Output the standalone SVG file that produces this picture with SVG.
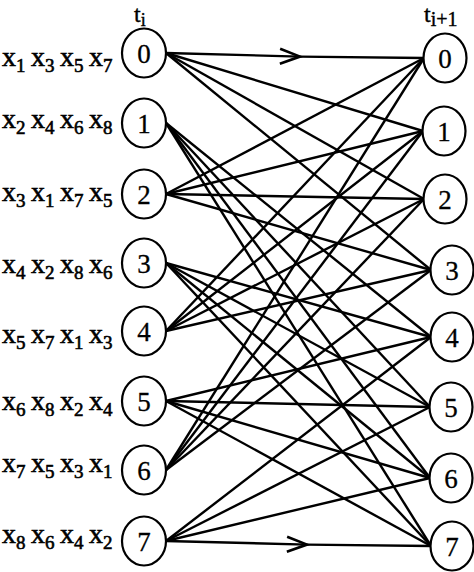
<svg xmlns="http://www.w3.org/2000/svg" width="474" height="572" viewBox="0 0 474 572">
<defs>
<style>
.n{fill:#fff;stroke:#000;stroke-width:2.2}
.d{font-family:'Liberation Serif','Times New Roman',serif;font-size:27px;text-anchor:middle;fill:#000;stroke:#000;stroke-width:0.3}
.lb{font-family:'Liberation Serif','Times New Roman',serif;font-size:28px;fill:#000;stroke:#000;stroke-width:0.6}
.sb{font-size:19px}
.t{font-family:'Liberation Serif','Times New Roman',serif;font-size:24px;fill:#000;stroke:#000;stroke-width:0.4}
.e{stroke:#000;stroke-width:2.4;fill:none}
</style>
<marker id="chev" markerUnits="userSpaceOnUse" markerWidth="30" markerHeight="20" viewBox="-22 -10 24 20" refX="0" refY="0" orient="auto">
<path d="M-20,-7.5 L0,0 L-20,7.5" fill="none" stroke="#000" stroke-width="2.6"/>
</marker>
</defs>
<rect width="474" height="572" fill="#fff"/>
<g id="connectors">
<path class="e" d="M166,53 L300,56.6 L424,58" marker-mid="url(#chev)"/>
<line class="e" x1="166" y1="53" x2="423" y2="131"/>
<line class="e" x1="166" y1="53" x2="424" y2="199"/>
<line class="e" x1="166" y1="53" x2="431" y2="270"/>
<line class="e" x1="166" y1="123" x2="431" y2="337"/>
<line class="e" x1="166" y1="123" x2="430" y2="407"/>
<line class="e" x1="166" y1="123" x2="430" y2="478"/>
<line class="e" x1="166" y1="123" x2="431" y2="546"/>
<line class="e" x1="166" y1="194" x2="424" y2="58"/>
<line class="e" x1="166" y1="194" x2="423" y2="131"/>
<line class="e" x1="166" y1="194" x2="424" y2="199"/>
<line class="e" x1="166" y1="194" x2="431" y2="270"/>
<line class="e" x1="166" y1="263" x2="431" y2="337"/>
<line class="e" x1="166" y1="263" x2="430" y2="407"/>
<line class="e" x1="166" y1="263" x2="430" y2="478"/>
<line class="e" x1="166" y1="263" x2="431" y2="546"/>
<line class="e" x1="166" y1="331" x2="424" y2="58"/>
<line class="e" x1="166" y1="331" x2="423" y2="131"/>
<line class="e" x1="166" y1="331" x2="424" y2="199"/>
<line class="e" x1="166" y1="331" x2="431" y2="270"/>
<line class="e" x1="166" y1="401" x2="431" y2="337"/>
<line class="e" x1="166" y1="401" x2="430" y2="407"/>
<line class="e" x1="166" y1="401" x2="430" y2="478"/>
<line class="e" x1="166" y1="401" x2="431" y2="546"/>
<line class="e" x1="166" y1="470" x2="424" y2="58"/>
<line class="e" x1="166" y1="470" x2="423" y2="131"/>
<line class="e" x1="166" y1="470" x2="424" y2="199"/>
<line class="e" x1="166" y1="470" x2="431" y2="270"/>
<line class="e" x1="166" y1="541" x2="431" y2="337"/>
<line class="e" x1="166" y1="541" x2="430" y2="407"/>
<line class="e" x1="166" y1="541" x2="430" y2="478"/>
<path class="e" d="M166,541 L307,544.6 L431,546" marker-mid="url(#chev)"/>
</g>
<g id="titles">
<text class="t" x="134" y="22">t<tspan dy="4" font-size="18">i</tspan></text>
<text class="t" x="424" y="22">t<tspan dy="4" font-size="20">i+1</tspan></text>
</g>
<g id="left-0"><ellipse class="n" cx="144" cy="53" rx="22" ry="24.5"/><text class="d" x="144" y="63">0</text>
<text class="lb" y="66"><tspan x="2">x</tspan><tspan class="sb" dy="6">1</tspan><tspan x="31" dy="-6">x</tspan><tspan class="sb" dy="6">3</tspan><tspan x="60" dy="-6">x</tspan><tspan class="sb" dy="6">5</tspan><tspan x="89" dy="-6">x</tspan><tspan class="sb" dy="6">7</tspan></text></g>
<g id="left-1"><ellipse class="n" cx="144" cy="123" rx="22" ry="24.5"/><text class="d" x="144" y="133">1</text>
<text class="lb" y="128"><tspan x="2">x</tspan><tspan class="sb" dy="6">2</tspan><tspan x="31" dy="-6">x</tspan><tspan class="sb" dy="6">4</tspan><tspan x="60" dy="-6">x</tspan><tspan class="sb" dy="6">6</tspan><tspan x="89" dy="-6">x</tspan><tspan class="sb" dy="6">8</tspan></text></g>
<g id="left-2"><ellipse class="n" cx="144" cy="194" rx="22" ry="24.5"/><text class="d" x="144" y="204">2</text>
<text class="lb" y="201"><tspan x="2">x</tspan><tspan class="sb" dy="6">3</tspan><tspan x="31" dy="-6">x</tspan><tspan class="sb" dy="6">1</tspan><tspan x="60" dy="-6">x</tspan><tspan class="sb" dy="6">7</tspan><tspan x="89" dy="-6">x</tspan><tspan class="sb" dy="6">5</tspan></text></g>
<g id="left-3"><ellipse class="n" cx="144" cy="263" rx="22" ry="24.5"/><text class="d" x="144" y="273">3</text>
<text class="lb" y="273"><tspan x="2">x</tspan><tspan class="sb" dy="6">4</tspan><tspan x="31" dy="-6">x</tspan><tspan class="sb" dy="6">2</tspan><tspan x="60" dy="-6">x</tspan><tspan class="sb" dy="6">8</tspan><tspan x="89" dy="-6">x</tspan><tspan class="sb" dy="6">6</tspan></text></g>
<g id="left-4"><ellipse class="n" cx="144" cy="331" rx="22" ry="24.5"/><text class="d" x="144" y="341">4</text>
<text class="lb" y="343"><tspan x="2">x</tspan><tspan class="sb" dy="6">5</tspan><tspan x="31" dy="-6">x</tspan><tspan class="sb" dy="6">7</tspan><tspan x="60" dy="-6">x</tspan><tspan class="sb" dy="6">1</tspan><tspan x="89" dy="-6">x</tspan><tspan class="sb" dy="6">3</tspan></text></g>
<g id="left-5"><ellipse class="n" cx="144" cy="401" rx="22" ry="24.5"/><text class="d" x="144" y="411">5</text>
<text class="lb" y="410"><tspan x="2">x</tspan><tspan class="sb" dy="6">6</tspan><tspan x="31" dy="-6">x</tspan><tspan class="sb" dy="6">8</tspan><tspan x="60" dy="-6">x</tspan><tspan class="sb" dy="6">2</tspan><tspan x="89" dy="-6">x</tspan><tspan class="sb" dy="6">4</tspan></text></g>
<g id="left-6"><ellipse class="n" cx="144" cy="470" rx="22" ry="24.5"/><text class="d" x="144" y="480">6</text>
<text class="lb" y="472"><tspan x="2">x</tspan><tspan class="sb" dy="6">7</tspan><tspan x="31" dy="-6">x</tspan><tspan class="sb" dy="6">5</tspan><tspan x="60" dy="-6">x</tspan><tspan class="sb" dy="6">3</tspan><tspan x="89" dy="-6">x</tspan><tspan class="sb" dy="6">1</tspan></text></g>
<g id="left-7"><ellipse class="n" cx="144" cy="541" rx="22" ry="24.5"/><text class="d" x="144" y="551">7</text>
<text class="lb" y="543"><tspan x="2">x</tspan><tspan class="sb" dy="6">8</tspan><tspan x="31" dy="-6">x</tspan><tspan class="sb" dy="6">6</tspan><tspan x="60" dy="-6">x</tspan><tspan class="sb" dy="6">4</tspan><tspan x="89" dy="-6">x</tspan><tspan class="sb" dy="6">2</tspan></text></g>
<g id="right-0"><ellipse class="n" cx="445" cy="58" rx="21.5" ry="24.5"/><text class="d" x="445" y="68">0</text></g>
<g id="right-1"><ellipse class="n" cx="444" cy="131" rx="21.5" ry="24.5"/><text class="d" x="444" y="141">1</text></g>
<g id="right-2"><ellipse class="n" cx="445" cy="199" rx="21.5" ry="24.5"/><text class="d" x="445" y="209">2</text></g>
<g id="right-3"><ellipse class="n" cx="452" cy="270" rx="21.5" ry="24.5"/><text class="d" x="452" y="280">3</text></g>
<g id="right-4"><ellipse class="n" cx="452" cy="337" rx="21.5" ry="24.5"/><text class="d" x="452" y="347">4</text></g>
<g id="right-5"><ellipse class="n" cx="451" cy="407" rx="21.5" ry="24.5"/><text class="d" x="451" y="417">5</text></g>
<g id="right-6"><ellipse class="n" cx="451" cy="478" rx="21.5" ry="24.5"/><text class="d" x="451" y="488">6</text></g>
<g id="right-7"><ellipse class="n" cx="452" cy="546" rx="21.5" ry="24.5"/><text class="d" x="452" y="556">7</text></g>
</svg>
